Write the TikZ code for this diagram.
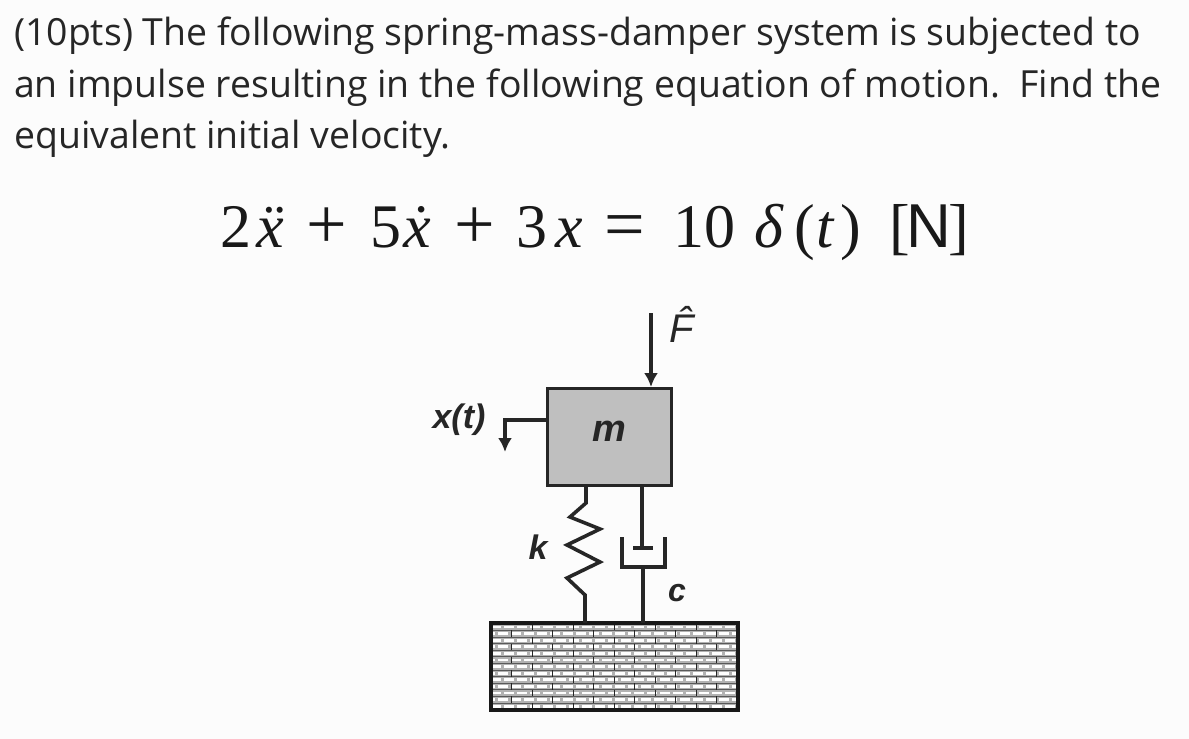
\documentclass[tikz,border=0pt]{standalone}
\usepackage{fontspec}
\setmainfont{Open Sans}
\newfontfamily\labelfont{Liberation Sans}
\newfontfamily\eqfont{Liberation Serif}
\usetikzlibrary{arrows.meta}
\newcommand{\tok}[2]{\makebox[#1pt][l]{#2}}
\newcommand{\bigop}[1]{\raisebox{-1.5pt}{\fontsize{72}{72}\selectfont #1}}
\tikzset{
  prose/.style={anchor=base west,inner sep=0pt,font=\fontsize{37.4}{40}\selectfont,text=black!85},
  eqn/.style={anchor=base west,inner sep=0pt,text=black!90,font=\eqfont\fontsize{62}{66}\selectfont},
  lab/.style={inner sep=0pt,font=\labelfont\bfseries\itshape\fontsize{34}{36}\selectfont,text=black!85},
  wire/.style={line width=3.6pt,draw=black!85},
  arrowline/.style={wire,-{Latex[length=14pt,width=14pt]}},
  massbox/.style={draw=black!85,line width=3pt,fill=black!25,minimum width=124pt,minimum height=97pt,inner sep=0pt},
  groundbox/.style={draw=black!90,line width=3.6pt,minimum width=247pt,minimum height=87pt,inner sep=0pt},
}
\begin{document}
\begin{tikzpicture}[x=1pt,y=-1pt]
\useasboundingbox (0,0) rectangle (1189,739);
\fill[black!1] (0,0) rectangle (1189,739);
\node[prose] (l1) at (14,45) {(10pts) The following spring-mass-damper system is subjected to};
\node[prose] (l2) at (14,97) {an impulse resulting in the following equation of motion.\ \ Find the};
\node[prose] (l3) at (14,148) {equivalent initial velocity.};
\node[eqn] (eq) at (220,247) {\tok{36}{2}\tok{50}{\textit{\"x}}\tok{64}{\bigop{+}}\tok{33}{5}\tok{51}{\textit{\.x}}\tok{62}{\bigop{+}}\tok{39}{3}\tok{49}{\textit{x}}\tok{69}{\bigop{=}}\tok{81}{10}\tok{40}{\textit{δ}}\tok{22}{(}\tok{24}{\textit{t}}\tok{49}{)}\tok{17}{[}\tok{42}{\labelfont N}]};
% mass
\node[massbox] (m) at (609,436.5) {};
\node[lab,font=\labelfont\bfseries\itshape\fontsize{38}{40}\selectfont] (mlab) at (609,431) {m};
% ground
\node[groundbox] (g) at (614.5,666.5) {};
\begin{scope}
\clip (g.south west) rectangle (g.north east);
\fill[black!30] (g.south west) rectangle (g.north east);
\foreach \r in {0,...,12}{
  \pgfmathsetmacro{\yy}{627+6.6*\r}
  \pgfmathsetmacro{\off}{mod(\r,2)*6}
  \draw[white,line width=2.8pt,dash pattern=on 10pt off 3pt,dash phase=\off] (491,\yy) -- (739,\yy);
  \draw[black!65,line width=0.8pt] (491,\yy+3.3) -- (739,\yy+3.3);
  \pgfmathsetmacro{\shift}{mod(\r,2)*20}
  \foreach \x in {491,532,573,614,655,696,737}{
    \draw[black!85,line width=1pt] (\x+\shift,\yy-3.3) -- (\x+\shift,\yy+3.3);
  }
}
\end{scope}
\node[groundbox] (g2) at (614.5,666.5) {};
% force
\coordinate (ftop) at (651,313);
\coordinate (fend) at (651,387);
\draw[arrowline] (ftop) -- (fend);
\node[lab,anchor=base west,font=\labelfont\itshape\fontsize{40}{42}\selectfont] (F) at (669,342) {\^{F}};
% x(t)
\coordinate (xa) at (m.west |- 0,420);
\coordinate (xb) at (505,420);
\coordinate (xc) at (505,452);
\draw[arrowline,line width=3.2pt] (xa) -- (xb) -- (xc);
\node[lab] (xlab) at (459,420) {x(t)};
% spring
\coordinate (st) at (586,486);
\coordinate (sb) at (585,623);
\draw[wire,line join=miter] (st) -- (586,503) -- (570,517) -- (600,529) -- (567,545) -- (600,562) -- (567,578) -- (585,595) -- (sb);
\node[lab] (k) at (538,547) {k};
% damper
\coordinate (rt) at (642,486);
\coordinate (rp) at (642,548);
\coordinate (pl) at (633,548);
\coordinate (pr) at (653,548);
\coordinate (cl) at (622,537);
\coordinate (cr) at (665,537);
\coordinate (cb) at (643,567);
\coordinate (rb) at (643,623);
\draw[wire] (rt) -- (rp);
\draw[wire] (pl) -- (pr);
\draw[wire,line join=miter] (cl) -- (cl |- cb) -- (cr |- cb) -- (cr);
\draw[wire] (cb) -- (rb);
\node[lab,font=\labelfont\bfseries\itshape\fontsize{32}{34}\selectfont] (c) at (677,593) {c};
\end{tikzpicture}
\end{document}
